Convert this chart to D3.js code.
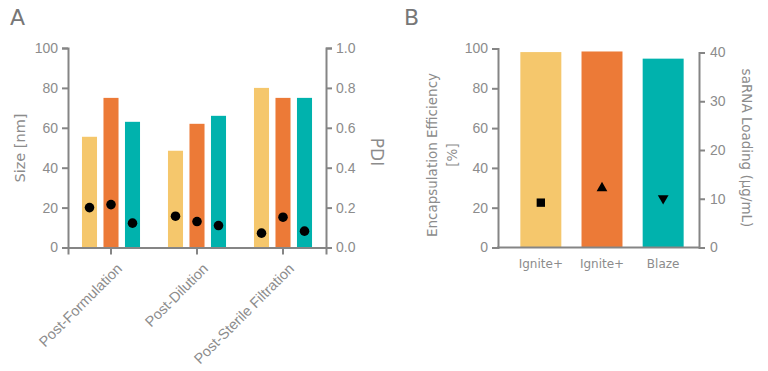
<!DOCTYPE html>
<html>
<head>
<meta charset="utf-8">
<script src="https://cdn.jsdelivr.net/npm/d3@7"></script>
<style>
  body { margin: 0; background: #fff; }
  svg { font-family: "DejaVu Sans", Verdana, sans-serif; }
  .axis path, .axis line { stroke: #858585; stroke-width: 2; }
  .axis text { fill: #8c8c8c; font-size: 14px; }
  .title { fill: #8c8c8c; }
</style>
</head>
<body>
<div id="chart"></div>
<script>
// panel A
var stages = ["Post-Formulation", "Post-Dilution", "Post-Sterile Filtration"];
var seriesA = ["s1", "s2", "s3"];
var sizeValues = [[55.5, 75, 63], [48.5, 62, 66], [80, 75, 75]];
var pdiValues = [[0.20, 0.215, 0.122], [0.157, 0.13, 0.11], [0.072, 0.152, 0.082]];
var sizeTicks = [0, 20, 40, 60, 80, 100];
var pdiTicks = [0, 0.2, 0.4, 0.6, 0.8, 1.0];

// panel B
var products = ["Ignite+ (a)", "Ignite+ (b)", "Blaze"];
var productLabels = ["Ignite+", "Ignite+", "Blaze"];
var efficiency = [98.2, 98.5, 94.9];
var loading = [9.2, 12.2, 10.1];
var effTicks = [0, 20, 40, 60, 80, 100];
var loadTicks = [0, 10, 20, 30, 40];

var colors = ["#f5c76c", "#ec7a37", "#00b2ad"];

var svg = d3.select("#chart").append("svg")
    .attr("width", 768)
    .attr("height", 371);

// ---------- A ----------
var xA = d3.scaleBand().domain(stages).range([68, 326]).padding(0);
var xInner = d3.scaleBand().domain(seriesA).range([0, xA.bandwidth()]).paddingInner(0.3).paddingOuter(0.65);
var yA = d3.scaleLinear().domain([0, 100]).range([247.5, 48]);
var yPdi = d3.scaleLinear().domain([0, 1]).range([247.5, 48]);

svg.append("text").attr("class", "title")
    .attr("x", 10).attr("y", 25)
    .style("font-size", "22px").style("fill", "#777")
    .text("A");

var groups = svg.append("g").selectAll("g")
    .data(stages)
    .enter()
    .append("g")
    .attr("transform", function (d) { return "translate(" + xA(d) + ",0)"; });

groups.selectAll("rect")
    .data(function (d, i) { return sizeValues[i]; })
    .enter()
    .append("rect")
    .attr("x", function (d, j) { return xInner(seriesA[j]); })
    .attr("width", xInner.bandwidth())
    .attr("y", function (d) { return yA(d); })
    .attr("height", function (d) { return yA(0) - yA(d); })
    .attr("fill", function (d, j) { return colors[j]; });

groups.selectAll("circle")
    .data(function (d, i) { return pdiValues[i]; })
    .enter()
    .append("circle")
    .attr("cx", function (d, j) { return xInner(seriesA[j]) + xInner.bandwidth() / 2; })
    .attr("cy", function (d) { return yPdi(d); })
    .attr("r", 4.8)
    .attr("fill", "#000");

svg.append("g").attr("class", "axis")
    .attr("transform", "translate(68,0)")
    .call(d3.axisLeft(yA).tickValues(sizeTicks).tickSizeOuter(0).tickSize(6).tickPadding(4));

svg.append("g").attr("class", "axis")
    .attr("transform", "translate(326,0)")
    .call(d3.axisRight(yPdi).tickValues(pdiTicks).tickFormat(d3.format(".1f")).tickSizeOuter(0).tickSize(6).tickPadding(4));

var xAxisA = svg.append("g").attr("class", "axis")
    .attr("transform", "translate(0,247.5)")
    .call(d3.axisBottom(xA).tickSizeOuter(0).tickSize(7));
xAxisA.selectAll("text")
    .style("font-size", "14.5px")
    .attr("text-anchor", "end")
    .attr("dx", 0).attr("dy", 0)
    .attr("transform", "translate(5,15) rotate(-45)");

svg.append("text").attr("class", "title")
    .attr("transform", "translate(25,148) rotate(-90)")
    .attr("text-anchor", "middle")
    .style("font-size", "14.5px")
    .text("Size [nm]");

svg.append("text").attr("class", "title")
    .attr("transform", "translate(371,152) rotate(90)")
    .attr("text-anchor", "middle")
    .style("font-size", "17px")
    .text("PDI");

// ---------- B ----------
var xB = d3.scaleBand().domain(products).range([502, 702]).paddingInner(0.33).paddingOuter(0.3);
var yEff = d3.scaleLinear().domain([0, 100]).range([247.5, 48.5]);
var yLoad = d3.scaleLinear().domain([0, 40]).range([247.5, 52.5]);

svg.append("text").attr("class", "title")
    .attr("x", 404).attr("y", 25)
    .style("font-size", "22px").style("fill", "#777")
    .text("B");

svg.append("g").selectAll("rect")
    .data(efficiency)
    .enter()
    .append("rect")
    .attr("x", function (d, i) { return xB(products[i]); })
    .attr("width", xB.bandwidth())
    .attr("y", function (d) { return yEff(d); })
    .attr("height", function (d) { return yEff(0) - yEff(d); })
    .attr("fill", function (d, i) { return colors[i]; });

var markers = [d3.symbolSquare, d3.symbolTriangle, d3.symbolTriangle];
svg.append("g").selectAll("path")
    .data(loading)
    .enter()
    .append("path")
    .attr("d", function (d, i) { return d3.symbol().type(markers[i]).size(i === 0 ? 70 : 50)(); })
    .attr("transform", function (d, i) {
        var cx = xB(products[i]) + xB.bandwidth() / 2;
        return "translate(" + cx + "," + yLoad(d) + ")" + (i === 2 ? " rotate(180)" : "");
    })
    .attr("fill", "#000");

svg.append("g").attr("class", "axis")
    .attr("transform", "translate(498,0)")
    .call(d3.axisLeft(yEff).tickValues(effTicks).tickSizeOuter(0).tickSize(6).tickPadding(4));

svg.append("g").attr("class", "axis")
    .attr("transform", "translate(699,0)")
    .call(d3.axisRight(yLoad).tickValues(loadTicks).tickSizeOuter(0).tickSize(6).tickPadding(5));

svg.append("line")
    .attr("x1", 497).attr("x2", 700)
    .attr("y1", 247.5).attr("y2", 247.5)
    .attr("stroke", "#858585").attr("stroke-width", 2);

svg.append("g").selectAll("text")
    .data(productLabels)
    .enter()
    .append("text")
    .attr("class", "title")
    .attr("x", function (d, i) { return xB(products[i]) + xB.bandwidth() / 2; })
    .attr("y", 268)
    .attr("text-anchor", "middle")
    .style("font-size", "12px")
    .text(function (d) { return d; });

var effLabel = svg.append("text").attr("class", "title")
    .attr("transform", "translate(437,155) rotate(-90)")
    .attr("text-anchor", "middle")
    .style("font-size", "13.5px");
effLabel.append("tspan").attr("x", 0).attr("dy", 0).text("Encapsulation Efficiency");
effLabel.append("tspan").attr("x", 0).attr("dy", "1.45em").text("[%]");

svg.append("text").attr("class", "title")
    .attr("transform", "translate(742,148) rotate(90)")
    .attr("text-anchor", "middle")
    .style("font-size", "13.5px")
    .text("saRNA Loading (µg/mL)");
</script>
</body>
</html>
